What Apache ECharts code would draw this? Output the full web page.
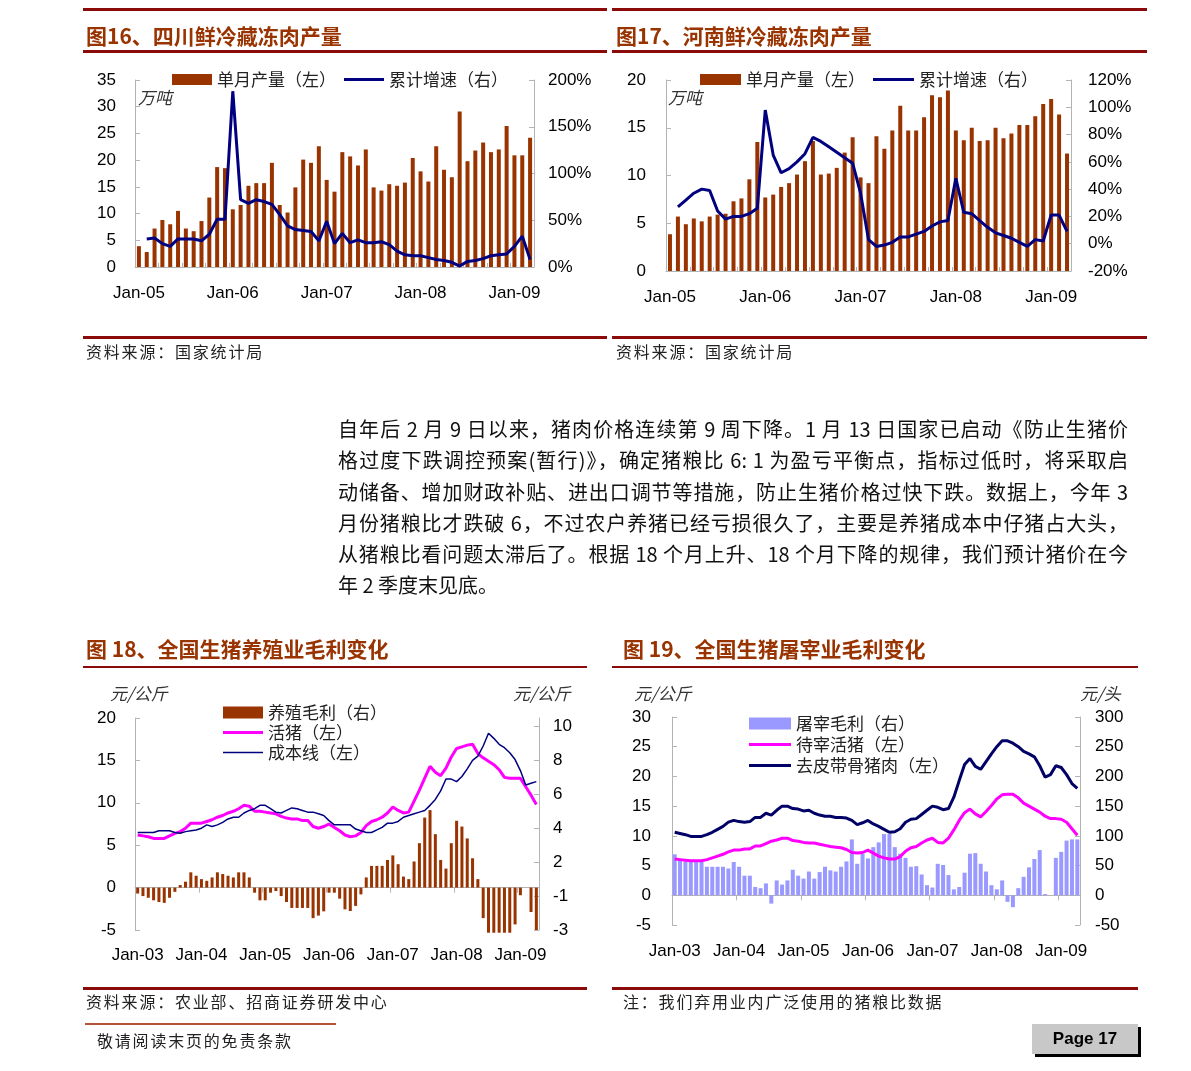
<!DOCTYPE html>
<html><head><meta charset="utf-8">
<script src="https://cdn.jsdelivr.net/npm/echarts@6/dist/echarts.min.js"></script>
<style>
html,body{margin:0;padding:0;background:#fff;}
body{width:1191px;height:1071px;position:relative;overflow:hidden;font-family:"Noto Sans CJK SC","Liberation Sans",sans-serif;}
#chart{position:absolute;left:0;top:0;width:1191px;height:1071px;}
.abs{position:absolute;white-space:nowrap;}
.rule{position:absolute;height:3px;background:#8B0A0A;}
.title{position:absolute;white-space:nowrap;color:#993300;font-size:21px;line-height:21px;font-weight:bold;}
.src{position:absolute;white-space:nowrap;color:#222;font-size:16px;line-height:16px;letter-spacing:1.8px;}
.unit{position:absolute;white-space:nowrap;color:#333;font-size:17px;line-height:17px;font-style:italic;}
.para{position:absolute;left:338px;width:790px;font-size:20px;line-height:20px;color:#111;}
.para div{position:absolute;left:0;width:790px;white-space:nowrap;}
.para .j{text-align:justify;text-align-last:justify;white-space:normal;}
#page{position:absolute;left:1032px;top:1024px;width:106px;height:30px;background:#c8c8c8;box-shadow:3px 3px 0 #000;font-family:"Liberation Sans",sans-serif;font-weight:bold;font-size:17px;line-height:30px;text-align:center;color:#000;}
</style></head>
<body>
<div id="chart"></div>

<div class="rule" style="left:83px;top:8px;width:524px;"></div>
<div class="rule" style="left:612px;top:8px;width:535px;"></div>
<div class="title" style="left:86px;top:25px;">图16、四川鲜冷藏冻肉产量</div>
<div class="title" style="left:616px;top:25px;">图17、河南鲜冷藏冻肉产量</div>
<div class="rule" style="left:83px;top:50px;width:524px;"></div>
<div class="rule" style="left:612px;top:50px;width:535px;"></div>
<div class="unit" style="left:138px;top:88px;">万吨</div>
<div class="unit" style="left:668px;top:88px;">万吨</div>
<div class="rule" style="left:83px;top:336px;width:524px;"></div>
<div class="rule" style="left:612px;top:336px;width:535px;"></div>
<div class="src" style="left:86px;top:343px;">资料来源：国家统计局</div>
<div class="src" style="left:616px;top:343px;">资料来源：国家统计局</div>

<div class="para" style="top:0;">
<div class="j" style="top:419px;">自年后 2 月 9 日以来，猪肉价格连续第 9 周下降。1 月 13 日国家已启动《防止生猪价</div>
<div class="j" style="top:450px;">格过度下跌调控预案(暂行)》，确定猪粮比 6: 1 为盈亏平衡点，指标过低时，将采取启</div>
<div class="j" style="top:482px;">动储备、增加财政补贴、进出口调节等措施，防止生猪价格过快下跌。数据上，今年 3</div>
<div class="j" style="top:513px;">月份猪粮比才跌破 6，不过农户养猪已经亏损很久了，主要是养猪成本中仔猪占大头，</div>
<div class="j" style="top:544px;">从猪粮比看问题太滞后了。根据 18 个月上升、18 个月下降的规律，我们预计猪价在今</div>
<div style="top:575px;">年 2 季度末见底。</div>
</div>

<div class="title" style="left:86px;top:638px;">图 18、全国生猪养殖业毛利变化</div>
<div class="title" style="left:623px;top:638px;">图 19、全国生猪屠宰业毛利变化</div>
<div class="rule" style="left:83px;top:666px;width:504px;height:2px;"></div>
<div class="rule" style="left:612px;top:666px;width:526px;height:2px;"></div>
<div class="unit" style="left:110px;top:684px;">元/公斤</div>
<div class="unit" style="left:513px;top:684px;">元/公斤</div>
<div class="unit" style="left:634px;top:684px;">元/公斤</div>
<div class="unit" style="left:1080px;top:684px;">元/头</div>
<div class="rule" style="left:83px;top:987px;width:504px;"></div>
<div class="rule" style="left:612px;top:987px;width:526px;"></div>
<div class="src" style="left:86px;top:993px;">资料来源：农业部、招商证券研发中心</div>
<div class="src" style="left:623px;top:993px;">注：我们弃用业内广泛使用的猪粮比数据</div>
<div class="abs" style="left:85px;top:1023px;width:251px;height:2px;background:#b5523a;"></div>
<div class="src" style="left:97px;top:1032px;">敬请阅读末页的免责条款</div>
<div id="page">Page 17</div>

<script>
// ---------- categories ----------
function monthLabels(startYear, count) {
  const m = ['Jan','Feb','Mar','Apr','May','Jun','Jul','Aug','Sep','Oct','Nov','Dec'];
  const out = [];
  for (let i = 0; i < count; i++) {
    const y = startYear + Math.floor(i / 12);
    out.push(m[i % 12] + '-' + String(y % 100).padStart(2, '0'));
  }
  return out;
}
const months05 = monthLabels(2005, 51);   // Jan-05 .. Mar-09
const months03 = monthLabels(2003, 76);   // Jan-03 .. Apr-09

// ---------- Fig.16 Sichuan ----------
const sichuanOutput = [3.9,2.8,7.2,8.8,8.0,10.5,7.2,6.7,8.6,13.0,
  18.7,18.5,10.8,11.6,15.2,15.7,15.7,19.5,11.6,10.2,
  14.9,20.1,19.5,22.6,16.3,14.1,21.5,20.7,19.0,22.0,
  14.9,14.3,15.5,15.2,15.8,20.4,17.9,16.0,22.6,18.2,
  16.8,29.1,19.8,21.8,23.3,21.5,22.0,26.4,20.9,20.9,24.2];
const sichuanGrowth = [null,30,31,25,22,30,30,30,28,35,
  51,51,188,72,68,72,70,67,56,44,
  40,39,38,28,49,25,36,26,29,26,
  26,27,24,17,13,12,12,10,8,7,
  5,1,6,7,9,12,13,14,22,33,8];

// ---------- Fig.17 Henan ----------
const henanOutput = [3.85,5.7,4.9,5.5,5.2,5.7,5.9,6.0,7.3,7.6,
  9.6,13.5,7.7,8.0,8.8,9.2,10.1,11.5,13.6,10.1,
  10.2,10.8,12.4,14.0,9.8,9.2,14.1,12.8,14.7,17.3,
  14.7,14.7,16.1,18.4,18.2,18.9,14.7,13.7,15.0,13.6,
  13.7,15.0,13.9,14.4,15.3,15.3,16.2,17.5,18.0,16.4,12.3];
const henanGrowth = [null,27,32,37,40,39,24,18,20,20,
  22,26,98,65,52,55,60,66,78,75,
  71,67,63,59,37,3,-2,-1,1,5,
  5,7,9,13,16,17,48,23,22,17,
  12,8,6,4,1,-2,3,2,21,21,9];

// ---------- Fig.18 breeding margin ----------
const breedMargin = [-0.35,-0.5,-0.6,-0.75,-0.85,-0.9,-0.6,-0.25,0.15,0.35,
  0.9,0.7,0.5,0.4,0.6,0.9,0.8,0.7,0.6,0.9,
  0.9,0.6,-0.3,-0.75,-0.75,-0.3,-0.2,-0.5,-0.85,-1.2,
  -1.2,-1.2,-1.2,-1.8,-1.65,-1.4,-0.3,-0.3,-0.65,-1.28,
  -1.38,-1.08,-0.4,0.6,1.28,1.28,1.28,1.63,1.9,1.38,
  0.65,0.5,1.54,2.62,4.13,4.57,3.15,1.63,1.12,2.62,
  3.94,3.6,2.9,1.73,0.5,-1.8,-2.66,-2.66,-2.66,-2.66,
  -2.66,-2.17,-0.45,0,-1.44,-2.5];
const livePig = [6.2,6.1,6.0,5.8,5.8,5.8,6.1,6.4,6.6,7.0,
  7.6,7.6,7.6,7.8,8.0,8.3,8.5,8.8,9.0,9.3,
  9.7,9.6,9.0,9.0,8.9,8.8,8.7,8.4,8.2,8.1,
  8.1,7.9,7.9,7.2,7.0,7.2,7.5,7.1,6.7,6.2,
  6.0,6.1,6.5,7.3,7.8,8.0,8.3,8.8,9.5,9.1,
  8.8,8.9,10.2,11.5,12.9,14.3,13.6,13.2,14.1,15.4,
  16.4,16.6,16.8,16.9,15.8,15.3,14.9,14.5,13.9,13.0,
  12.9,12.9,12.9,11.9,10.9,9.8];
const costLine = [6.5,6.5,6.5,6.5,6.7,6.7,6.7,6.5,6.4,6.6,
  6.7,6.8,7.0,7.4,7.2,7.4,7.7,8.1,8.3,8.3,
  8.8,9.1,9.3,9.7,9.7,9.3,8.9,8.8,9.1,9.4,
  9.3,9.1,8.9,8.9,8.7,8.5,7.9,7.4,7.4,7.4,
  7.4,6.9,6.7,6.5,6.5,6.8,7.1,7.6,7.6,7.8,
  8.3,8.5,8.7,8.9,9.1,9.7,10.4,11.4,12.8,12.8,
  12.5,13.1,14.0,15.0,15.5,16.7,18.2,17.6,16.9,16.5,
  15.9,15.1,13.8,12.1,12.3,12.5];
const breedRightTicks = ['-3','-1','2','4','6','8','10'];

// ---------- Fig.19 slaughter margin ----------
const slaughterMargin = [69,61,57,56,57,56,48,48,48,48,
  45,56,48,33,33,14,12,20,-14,25,
  18,25,43,33,28,40,28,39,48,42,
  40,48,57,94,53,70,62,81,89,103,
  103,81,70,63,48,49,35,17,13,53,
  51,34,10,14,38,70,71,53,40,17,
  10,25,-11,-20,12,31,47,61,76,2,
  0,63,73,92,94,94];
const slaughterHog = [6.1,6.0,5.9,5.8,5.8,5.8,6.0,6.3,6.6,6.9,
  7.3,7.6,7.6,7.8,7.8,8.3,8.3,8.7,9.1,9.3,
  9.6,9.6,9.2,9.1,8.9,8.8,8.8,8.6,8.4,8.2,
  8.1,8.0,7.7,7.2,7.1,7.2,7.6,7.1,6.6,6.3,
  6.1,6.1,6.5,7.4,8.0,8.2,8.8,9.3,9.6,8.9,
  8.8,9.6,11.0,12.6,13.9,14.5,13.7,13.2,14.1,15.1,
  16.2,16.9,17.0,17.0,16.4,15.5,15.0,14.5,14.0,13.3,
  12.9,12.9,12.8,12.3,11.2,10.1];
const porkPrice = [10.6,10.4,10.2,9.9,9.9,9.9,10.2,10.6,11.1,11.6,
  12.3,12.6,12.4,12.3,12.4,13.1,13.1,13.8,13.5,14.3,
  15.0,15.0,14.6,14.5,14.2,14.3,13.8,13.5,13.3,13.3,
  13.1,13.1,13.0,12.6,11.9,12.2,12.6,12.0,11.6,11.1,
  10.6,10.7,11.2,12.3,12.8,12.9,13.6,14.3,15.0,14.8,
  14.4,14.6,16.5,19.3,22.0,23.0,21.7,21.2,22.5,23.8,
  25.0,26.0,26.0,25.6,25.0,24.2,23.8,23.3,21.8,19.9,
  20.3,21.8,21.5,20.3,18.8,18.0];

// ---------- styles ----------
const AX = '#b4b4b4';
const NUMFONT = '"Liberation Sans", "Noto Sans CJK SC", sans-serif';
const CJKFONT = '"Noto Sans CJK SC", sans-serif';
const BROWN = '#993300';
const NAVY = '#000080';
const PINK = '#FF00FF';
const LAV = '#9999FF';
const LINE3 = 'path://M0,0H40V3H0Z';
const LINE15 = 'path://M0,0H40V1.5H0Z';

function xLabelAxis(grid, data, tickInterval, showLine, margin) {
  return {
    type: 'category', gridIndex: grid, data: data, boundaryGap: true,
    axisLine: { show: showLine, onZero: false, lineStyle: { color: AX, width: 1 } },
    axisTick: { show: showLine, inside: true, length: 4, interval: tickInterval, lineStyle: { color: AX } },
    axisLabel: { interval: 11, margin: margin, fontSize: 17, color: '#000', fontFamily: NUMFONT },
    splitLine: { show: false }
  };
}
function zeroAxis(grid, data, onZeroIdx) {
  return {
    type: 'category', gridIndex: grid, data: data, boundaryGap: true,
    axisLine: { show: true, onZero: true, onZeroAxisIndex: onZeroIdx, lineStyle: { color: AX, width: 1 } },
    axisTick: { show: true, inside: true, length: 5, interval: 11, lineStyle: { color: AX } },
    axisLabel: { show: false }, splitLine: { show: false }
  };
}
function valAxis(grid, pos, min, max, interval, margin, fmt) {
  return {
    type: 'value', gridIndex: grid, position: pos, min: min, max: max, interval: interval,
    axisLine: { show: true, lineStyle: { color: AX, width: 1 } },
    axisTick: { show: true, inside: true, length: 5, lineStyle: { color: AX } },
    axisLabel: { margin: margin, fontSize: 17, color: '#000', fontFamily: NUMFONT, formatter: fmt || '{value}' },
    splitLine: { show: false }
  };
}

const legendText = { fontSize: 17, color: '#222', fontFamily: CJKFONT };

const breedLabelAxis = valAxis(2, 'right', 0, 12.5, 2, 14);
breedLabelAxis.axisLabel.showMaxLabel = false;
breedLabelAxis.axisLabel.formatter = function (v, i) {
  return breedRightTicks[i] !== undefined ? breedRightTicks[i] : '';
};
const breedDataAxis = valAxis(2, 'right', -2.5, 10, 2.5, 14);
breedDataAxis.show = false;

const option = {
  animation: false,
  grid: [
    { left: 135, top: 80, width: 399, height: 187 },
    { left: 666, top: 80, width: 405, height: 191 },
    { left: 135, top: 718, width: 404, height: 212 },
    { left: 672, top: 717, width: 408, height: 208 }
  ],
  xAxis: [
    xLabelAxis(0, months05, 2, true, 18),
    xLabelAxis(1, months05, 2, true, 18),
    xLabelAxis(2, months03, 11, false, 17),
    zeroAxis(2, months03, 4),
    xLabelAxis(3, months03, 11, false, 18),
    zeroAxis(3, months03, 7)
  ],
  yAxis: [
    valAxis(0, 'left', 0, 35, 5, 19),
    valAxis(0, 'right', 0, 200, 50, 14, '{value}%'),
    valAxis(1, 'left', 0, 20, 5, 20),
    valAxis(1, 'right', -20, 120, 20, 17, '{value}%'),
    valAxis(2, 'left', -5, 20, 5, 19),
    breedDataAxis,
    breedLabelAxis,
    valAxis(3, 'left', -5, 30, 5, 21),
    valAxis(3, 'right', -50, 300, 50, 15)
  ],
  legend: [
    { left: 172, top: 71, padding: 0, itemWidth: 40, itemHeight: 11, itemGap: 8, textStyle: legendText,
      data: [{ name: '单月产量（左）', icon: 'rect' }, { name: '累计增速（右）', icon: LINE3 }] },
    { left: 700, top: 71, padding: 0, itemWidth: 41, itemHeight: 11, itemGap: 8, textStyle: legendText,
      data: [{ name: '单月产量（左）', icon: 'rect' }, { name: '累计增速（右）', icon: LINE3 }] },
    { left: 223, top: 704, padding: 0, orient: 'vertical', itemWidth: 40, itemHeight: 12, itemGap: 3, textStyle: legendText,
      data: [{ name: '养殖毛利（右）', icon: 'rect' }, { name: '活猪（左）', icon: LINE3 }, { name: '成本线（左）', icon: LINE15 }] },
    { left: 749, top: 715, padding: 0, orient: 'vertical', itemWidth: 42, itemHeight: 12, itemGap: 4, textStyle: legendText,
      data: [{ name: '屠宰毛利（右）', icon: 'rect' }, { name: '待宰活猪（左）', icon: LINE3 }, { name: '去皮带骨猪肉（左）', icon: LINE3 }] }
  ],
  series: [
    { name: '单月产量（左）', type: 'bar', xAxisIndex: 0, yAxisIndex: 0, data: sichuanOutput, barWidth: 4,
      itemStyle: { color: BROWN } },
    { name: '累计增速（右）', type: 'line', xAxisIndex: 0, yAxisIndex: 1, data: sichuanGrowth, symbol: 'none',
      lineStyle: { color: NAVY, width: 3 }, itemStyle: { color: NAVY } },
    { name: '单月产量（左）', type: 'bar', xAxisIndex: 1, yAxisIndex: 2, data: henanOutput, barWidth: 4,
      itemStyle: { color: BROWN } },
    { name: '累计增速（右）', type: 'line', xAxisIndex: 1, yAxisIndex: 3, data: henanGrowth, symbol: 'none',
      lineStyle: { color: NAVY, width: 3 }, itemStyle: { color: NAVY } },
    { name: '养殖毛利（右）', type: 'bar', xAxisIndex: 2, yAxisIndex: 5, data: breedMargin, barWidth: 3, clip: false,
      itemStyle: { color: BROWN } },
    { name: '活猪（左）', type: 'line', xAxisIndex: 2, yAxisIndex: 4, data: livePig, symbol: 'none',
      lineStyle: { color: PINK, width: 3 }, itemStyle: { color: PINK } },
    { name: '成本线（左）', type: 'line', xAxisIndex: 2, yAxisIndex: 4, data: costLine, symbol: 'none',
      lineStyle: { color: NAVY, width: 1.5 }, itemStyle: { color: NAVY } },
    { name: '屠宰毛利（右）', type: 'bar', xAxisIndex: 4, yAxisIndex: 8, data: slaughterMargin, barWidth: 4,
      itemStyle: { color: LAV } },
    { name: '待宰活猪（左）', type: 'line', xAxisIndex: 4, yAxisIndex: 7, data: slaughterHog, symbol: 'none',
      lineStyle: { color: PINK, width: 3 }, itemStyle: { color: PINK } },
    { name: '去皮带骨猪肉（左）', type: 'line', xAxisIndex: 4, yAxisIndex: 7, data: porkPrice, symbol: 'none',
      lineStyle: { color: '#000066', width: 3 }, itemStyle: { color: '#000066' } }
  ]
};
const chart = echarts.init(document.getElementById('chart'), null, { renderer: 'canvas' });
chart.setOption(option);
</script>
</body></html>
